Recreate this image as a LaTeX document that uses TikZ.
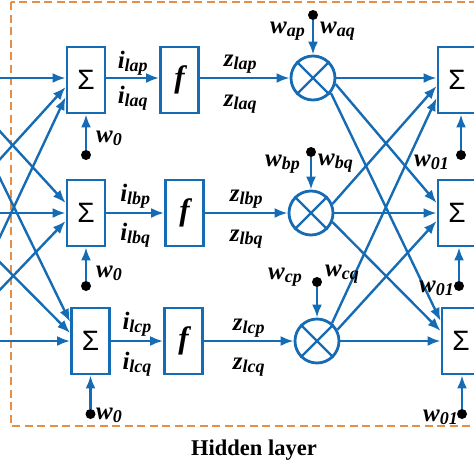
\documentclass[tikz,border=0pt]{standalone}
\usepackage{fontspec}
\setmainfont{Liberation Serif}
\newfontfamily\sigfont{Liberation Sans}
\usetikzlibrary{arrows.meta,calc}
\definecolor{nnblue}{RGB}{22,108,180}
\definecolor{nnorange}{RGB}{228,142,70}
\newcommand{\lab}[2]{\fontsize{25}{25}\selectfont\bfseries\itshape #1\raisebox{-3.5pt}{\fontsize{18}{18}\selectfont #2}}
\begin{document}
\begin{tikzpicture}[x=1pt,y=-1pt,
 sumbox/.style={draw=nnblue, line width=2.8pt, fill=white, minimum width=38pt, minimum height=66pt, inner sep=0pt, font=\sigfont\fontsize{28}{28}\selectfont},
 fbox/.style={sumbox, font=\fontsize{31}{31}\selectfont\bfseries\itshape},
 mult/.style={circle, draw=nnblue, line width=2.8pt, fill=white, minimum size=44pt, inner sep=0pt},
 dot/.style={circle, fill=black, minimum size=10pt, inner sep=0pt},
 arr/.style={draw=nnblue, line width=2.4pt, -{Latex[length=13pt,width=10pt]}},
 lbl/.style={inner sep=0pt, text=black},
 dashbox/.style={draw=nnorange, line width=1.8pt, dash pattern=on 8pt off 4.5pt},
]
\useasboundingbox (0,0) rectangle (474,474);
\clip (0,0) rectangle (474,474);

% hidden layer frame
\draw[dashbox] (11,2) rectangle (520,426);
\node[lbl, anchor=base, font=\fontsize{22.5}{22.5}\selectfont\bfseries] (title) at (254,455) {Hidden layer};

% inputs (outside the frame)
\coordinate (in1) at (-49,78);
\coordinate (in2) at (-49,213);
\coordinate (in3) at (-49,341);

% nodes
\node[sumbox] (sa) at (86,80) {Σ};
\node[sumbox] (sb) at (86,213) {Σ};
\node[sumbox] (sc) at (90.5,341) {Σ};
\node[fbox] (fa) at (179.5,80) {f};
\node[fbox] (fb) at (184.5,213) {f};
\node[fbox] (fc) at (183.5,341) {f};
\node[mult] (ca) at (313,78) {};
\node[mult] (cb) at (311,213) {};
\node[mult] (cc) at (317,341) {};
\node[sumbox] (ra) at (457,80) {Σ};
\node[sumbox] (rb) at (457,213) {Σ};
\node[sumbox] (rc) at (461,341) {Σ};

\foreach \c in {ca,cb,cc}{
  \draw[nnblue, line width=2.2pt] (\c.45) -- (\c.225) (\c.135) -- (\c.315);
}

% input connections
\draw[arr] (in1) -- ([yshift=2pt]sa.west);
\draw[arr] (in2) -- ([yshift=-7pt]sa.west);
\draw[arr] (in3) -- ([yshift=-17pt]sa.west);
\draw[arr] (in1) -- ([yshift=10pt]sb.west);
\draw[arr] (in2) -- (sb.west);
\draw[arr] (in3) -- ([yshift=-8pt]sb.west);
\draw[arr] (in1) -- ([yshift=19pt]sc.west);
\draw[arr] (in2) -- ([yshift=8pt]sc.west);
\draw[arr] (in3) -- (sc.west);

% sum -> f
\draw[arr] ([yshift=2pt]sa.east) -- ([yshift=2pt]fa.west)
  node[lbl, pos=0.5, anchor=base, yshift=10pt] (ilap) {\lab{i}{lap}}
  node[lbl, pos=0.5, anchor=base, yshift=-25pt] (ilaq) {\lab{i}{laq}};
\draw[arr] (sb.east) -- (fb.west)
  node[lbl, pos=0.5, anchor=base, yshift=12pt] (ilbp) {\lab{i}{lbp}}
  node[lbl, pos=0.5, anchor=base, yshift=-27pt] (ilbq) {\lab{i}{lbq}};
\draw[arr] (sc.east) -- (fc.west)
  node[lbl, pos=0.5, anchor=base, yshift=12pt] (ilcp) {\lab{i}{lcp}}
  node[lbl, pos=0.5, anchor=base, yshift=-28pt] (ilcq) {\lab{i}{lcq}};

% f -> multipliers
\draw[arr] ([yshift=2pt]fa.east) -- (ca.west)
  node[lbl, pos=0.45, anchor=base, yshift=12pt] (zlap) {\lab{z}{lap}}
  node[lbl, pos=0.45, anchor=base, yshift=-28pt] (zlaq) {\lab{z}{laq}};
\draw[arr] (fb.east) -- (cb.west)
  node[lbl, pos=0.5, anchor=base, yshift=12pt] (zlbp) {\lab{z}{lbp}}
  node[lbl, pos=0.5, anchor=base, yshift=-28pt] (zlbq) {\lab{z}{lbq}};
\draw[arr] (fc.east) -- (cc.west)
  node[lbl, pos=0.5, anchor=base, yshift=11pt] (zlcp) {\lab{z}{lcp}}
  node[lbl, pos=0.5, anchor=base, yshift=-28pt] (zlcq) {\lab{z}{lcq}};

% multipliers -> output sums
\draw[arr] (ca.east) -- ([yshift=2pt]ra.west);
\draw[arr] (ca.-15) -- ([yshift=10pt]rb.west);
\draw[arr] (ca.-40) -- ([yshift=20pt]rc.west);
\draw[arr] (cb.23) -- ([yshift=-6pt]ra.west);
\draw[arr] (cb.east) -- (rb.west);
\draw[arr] (cb.-23) -- ([yshift=10pt]rc.west);
\draw[arr] (cc.50) -- ([yshift=-18pt]ra.west);
\draw[arr] (cc.29) -- ([yshift=-8pt]rb.west);
\draw[arr] (cc.east) -- (rc.west);

% bias w0
\node[dot] (d0a) at (86,155) {};
\node[dot] (d0b) at (86,286) {};
\node[dot] (d0c) at (90.5,414) {};
\draw[arr] (d0a) -- (sa.south);
\draw[arr] (d0b) -- (sb.south);
\draw[arr] (d0c) -- (sc.south);
\node[lbl, anchor=base west] (w0a) at (96,142) {\lab{w}{0}};
\node[lbl, anchor=base west] (w0b) at (96,277) {\lab{w}{0}};
\node[lbl, anchor=base west] (w0c) at (96,419) {\lab{w}{0}};

% multiplier weights
\node[dot] (dwa) at (313,15) {};
\node[dot] (dwb) at (311,152) {};
\node[dot] (dwc) at (317,282) {};
\draw[arr] (dwa) -- (ca.north);
\draw[arr] (dwb) -- (cb.north);
\draw[arr] (dwc) -- (cc.north);
\node[lbl, anchor=base east] (wap) at (305,33) {\lab{w}{ap}};
\node[lbl, anchor=base west] (waq) at (320,33) {\lab{w}{aq}};
\node[lbl, anchor=base east] (wbp) at (300,166) {\lab{w}{bp}};
\node[lbl, anchor=base west] (wbq) at (318,165) {\lab{w}{bq}};
\node[lbl, anchor=base east] (wcp) at (302,279) {\lab{w}{cp}};
\node[lbl, anchor=base west] (wcq) at (325,276) {\lab{w}{cq}};

% output biases w01
\node[dot] (d1a) at (461,155) {};
\node[dot] (d1b) at (459,286) {};
\node[dot] (d1c) at (462,414) {};
\draw[arr] (d1a) -- (d1a |- ra.south);
\draw[arr] (d1b) -- (d1b |- rb.south);
\draw[arr] (d1c) -- (d1c |- rc.south);
\node[lbl, anchor=base east] (w1a) at (449,166) {\lab{w}{01}};
\node[lbl, anchor=base east] (w1b) at (454,292) {\lab{w}{01}};
\node[lbl, anchor=base east] (w1c) at (458,421) {\lab{w}{01}};
\end{tikzpicture}
\end{document}
